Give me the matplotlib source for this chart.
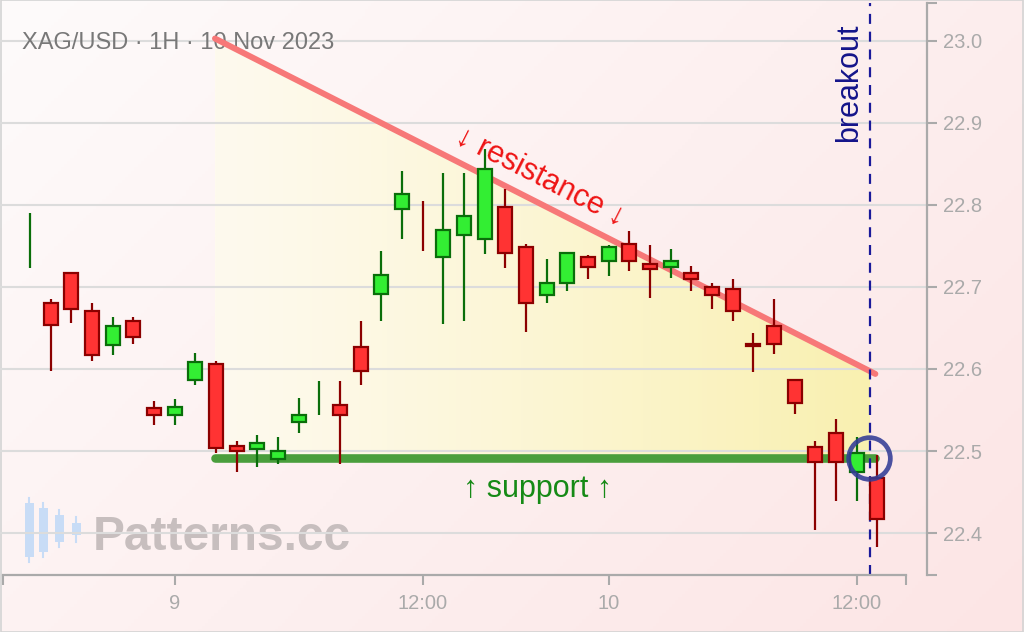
import numpy as np
import matplotlib
matplotlib.use('Agg')
import matplotlib.pyplot as plt
from matplotlib.patches import Rectangle, Polygon
from matplotlib.lines import Line2D

# ---------------- data ----------------
opens  = [np.nan, 22.681, 22.717, 22.671, 22.629, 22.659, 22.552, 22.544, 22.586, 22.606,
          22.506, 22.502, 22.490, 22.535, np.nan, 22.556, 22.627, 22.692, 22.795, np.nan,
          22.737, 22.763, 22.759, 22.798, 22.749, 22.690, 22.705, 22.737, 22.732, 22.752,
          22.728, 22.724, 22.717, 22.700, 22.698, 22.631, 22.652, 22.586, 22.505, 22.522,
          22.474, 22.467]
highs  = [22.790, 22.685, 22.718, 22.680, 22.663, 22.663, 22.561, 22.563, 22.619, 22.610,
          22.512, 22.520, 22.517, 22.565, 22.585, 22.585, 22.659, 22.744, 22.841, 22.805,
          22.839, 22.839, 22.868, 22.819, 22.753, 22.734, 22.743, 22.739, 22.751, 22.768,
          22.751, 22.746, 22.725, 22.705, 22.710, 22.644, 22.685, 22.586, 22.512, 22.539,
          22.517, 22.495]
lows   = [22.723, 22.598, 22.656, 22.610, 22.617, 22.630, 22.532, 22.532, 22.581, 22.498,
          22.474, 22.481, 22.484, 22.522, 22.544, 22.484, 22.581, 22.659, 22.759, 22.744,
          22.655, 22.659, 22.740, 22.723, 22.645, 22.681, 22.695, 22.710, 22.713, 22.720,
          22.686, 22.711, 22.695, 22.673, 22.659, 22.596, 22.618, 22.545, 22.404, 22.439,
          22.439, 22.383]
closes = [np.nan, 22.654, 22.673, 22.617, 22.652, 22.639, 22.544, 22.554, 22.608, 22.504,
          22.500, 22.510, 22.500, 22.544, np.nan, 22.544, 22.598, 22.715, 22.813, np.nan,
          22.769, 22.786, 22.844, 22.741, 22.680, 22.705, 22.742, 22.724, 22.749, 22.732,
          22.722, 22.732, 22.710, 22.690, 22.671, 22.628, 22.631, 22.558, 22.486, 22.486,
          22.498, 22.417]
wick_only = [0, 14, 19]
wick_only_up = [True, True, False]

xtick_pos = [7, 19, 28, 40]
xtick_labels = ['9', '12:00', '10', '12:00']
ytick_vals = [22.4, 22.5, 22.6, 22.7, 22.8, 22.9, 23.0]
ytick_labels = ['22.4', '22.5', '22.6', '22.7', '22.8', '22.9', '23.0']

pattern_start = 8.95
pattern_end = 40.9
breakout_x = 40.64
support_level = 22.491
resistance_start = 23.003
resistance_end = 22.594

title = 'XAG/USD · 1H · 10 Nov 2023'

# ---------------- figure ----------------
W, H = 1024, 632
fig = plt.figure(figsize=(W / 100, H / 100), dpi=100)

# background gradient
bg = fig.add_axes([0, 0, 1, 1], zorder=-10)
gx = np.linspace(0, 1, 320)[None, :]
gy = np.linspace(0, 1, 200)[:, None]
t = np.clip(0.62 * gx + 0.38 * gy, 0, 1)
c0 = np.array([254, 251, 251]) / 255
c1 = np.array([252, 229, 229]) / 255
img = c0[None, None, :] * (1 - t[..., None]) + c1[None, None, :] * t[..., None]
bg.imshow(img, extent=[0, 1, 0, 1], aspect='auto', origin='upper')
bg.set_xlim(0, 1); bg.set_ylim(0, 1)
bg.axis('off')
bg.add_patch(Rectangle((0.0005, 0.0005), 0.999, 0.999, fill=False,
                       edgecolor='#d4d4d4', lw=1.2, transform=bg.transAxes))

ax = fig.add_axes([0, (H - 575) / H, 926 / W, 572 / H], zorder=1)
ax.set_facecolor('none')
ax.set_xlim(-1.451, 43.35)
ax.set_ylim(22.3488, 23.0463)

# grid
ax.set_yticks(ytick_vals)
ax.set_yticklabels(ytick_labels)
ax.grid(axis='y', color='#dcdcdc', lw=1.5)
ax.set_axisbelow(True)

# spines / axes
for s in ['left', 'top']:
    ax.spines[s].set_visible(False)
ax.spines['bottom'].set_color('#aaaaaa')
ax.spines['bottom'].set_linewidth(1.6)
ax.spines['bottom'].set_bounds(-1.306, 42.38)
ax.spines['right'].set_color('#aaaaaa')
ax.spines['right'].set_linewidth(1.6)
ax.spines['right'].set_position(('outward', 1))
ax.yaxis.tick_right()
ax.set_xticks(xtick_pos)
ax.set_xticklabels(xtick_labels)
ax.tick_params(axis='x', direction='out', length=7.5, width=1.5, color='#aaaaaa',
               labelcolor='#aaaaaa', labelsize=14.5, pad=6)
ax.tick_params(axis='y', direction='out', length=7.5, width=1.5, color='#aaaaaa',
               labelcolor='#aaaaaa', labelsize=14.5, pad=4)
for lab in ax.get_xticklabels() + ax.get_yticklabels():
    lab.set_family(['Liberation Sans', 'DejaVu Sans'])

# outer end ticks
ax_h = 572
for xe in [-1.306, 42.38]:
    ax.plot([xe, xe], [0, -10 / ax_h], transform=ax.get_xaxis_transform(),
            color='#aaaaaa', lw=1.5, clip_on=False, solid_capstyle='butt')
for ye in [0, 1]:
    ax.plot([1 + 1 / 926, 1 + 11 / 926], [ye, ye], transform=ax.transAxes,
            color='#aaaaaa', lw=1.5, clip_on=False, solid_capstyle='butt')

# pattern fill (gradient clipped to triangle), below the grid lines
slope = (resistance_end - resistance_start) / (pattern_end - pattern_start)
res_at_b = resistance_start + slope * (breakout_x - pattern_start)
poly = Polygon([(pattern_start, support_level), (pattern_start, resistance_start),
                (breakout_x, res_at_b), (breakout_x, support_level)],
               closed=True, facecolor='none', edgecolor='none')
ax.add_patch(poly)
fx_ = np.linspace(0, 1, 256)[None, :]
fa = np.array([254, 250, 238]) / 255
fb = np.array([249, 240, 176]) / 255
ramp = np.clip(fx_, 0, 1) ** 1.2
fimg = fa[None, None, :] * (1 - ramp[..., None]) + fb[None, None, :] * ramp[..., None]
fimg = np.repeat(fimg, 4, axis=0)
im = ax.imshow(fimg, extent=[pattern_start, breakout_x, support_level, resistance_start],
               aspect='auto', origin='upper', zorder=0.2)
im.set_clip_path(poly)
ax.set_xlim(-1.451, 43.35)
ax.set_ylim(22.3488, 23.0463)

# support & resistance lines
ax.plot([pattern_start, pattern_end], [support_level, support_level], color='#4a9e3c',
        lw=6.2, solid_capstyle='round', zorder=2)
ax.plot([pattern_start, pattern_end], [resistance_start, resistance_end], color='#f77878',
        lw=4.3, solid_capstyle='round', zorder=2)

# breakout line
ax.axvline(breakout_x, color='#1a1a9a', lw=1.6, ls=(0, (4.5, 3.5)), zorder=2)

# candles
bw = 0.68
for i in range(len(highs)):
    o, h, l, c = opens[i], highs[i], lows[i], closes[i]
    if i in wick_only:
        up = wick_only_up[wick_only.index(i)]
    else:
        up = c >= o
    wick_col = '#0a6e0a' if up else '#8b0000'
    body_col = '#33ee33' if up else '#ff3333'
    ax.plot([i, i], [l, h], color=wick_col, lw=1.6, zorder=3, solid_capstyle='butt')
    if i not in wick_only:
        lo, hi = min(o, c), max(o, c)
        ax.add_patch(Rectangle((i - bw / 2, lo), bw, hi - lo, facecolor=body_col,
                               edgecolor=wick_col, lw=1.6, zorder=3.5))

# breakout circle
ax.plot([breakout_x - 0.03], [support_level + 0.0005], marker='o', ms=30, mfc='none',
        mec='#323c96', mew=3.4, alpha=0.88, zorder=4)

fontfam = ['Liberation Sans', 'DejaVu Sans']

# annotations
mx = 24.67
my = 22.834
p1 = ax.transData.transform((pattern_start, resistance_start))
p2 = ax.transData.transform((pattern_end, resistance_end))
ang = np.degrees(np.arctan2(p2[1] - p1[1], p2[0] - p1[0]))
ax.text(mx, my, '↓ resistance ↓', color='#ee1414', fontsize=22, rotation=ang,
        rotation_mode='anchor', ha='center', va='center', family=fontfam, zorder=5)
ax.text(24.58, 22.4537, '↑ support ↑', color='#168a16', fontsize=22, ha='center',
        va='center', family=fontfam, zorder=5)
ax.text(849.5 / W, 1 - 82.5 / H, 'breakout', transform=fig.transFigure, rotation=90,
        color='#14148a', fontsize=22, ha='center', va='center', family=fontfam, zorder=5)

# title
ax.text(22 / W, 1 - 49 / H, title, transform=fig.transFigure, color='#787878',
        fontsize=17, ha='left', va='baseline', family=fontfam, zorder=1.5)

# watermark
wm_x = [29.3, 43.3, 59.3, 76.0]
wm_body = [(503, 557), (508, 552), (515, 542), (523, 535)]
wm_wick = [(498, 562), (503, 557), (510, 547), (517, 542)]
for x, (bt, bb), (wt, wb) in zip(wm_x, wm_body, wm_wick):
    fig.add_artist(Line2D([x / W, x / W], [1 - wt / H, 1 - wb / H], color='#c8dcf6',
                          lw=1.5, transform=fig.transFigure, zorder=0.5))
    fig.add_artist(Rectangle(((x - 4.5) / W, 1 - bb / H), 9 / W, (bb - bt) / H,
                             facecolor='#c8dcf6', edgecolor='none',
                             transform=fig.transFigure, zorder=0.5))
fig.text(93 / W, 1 - 550 / H, 'Patterns.cc', color='#c4bcbc', fontsize=34.5,
         fontweight='bold', ha='left', va='baseline', family=fontfam, alpha=0.95, zorder=0.5)

fig.savefig('out.png', dpi=100)
